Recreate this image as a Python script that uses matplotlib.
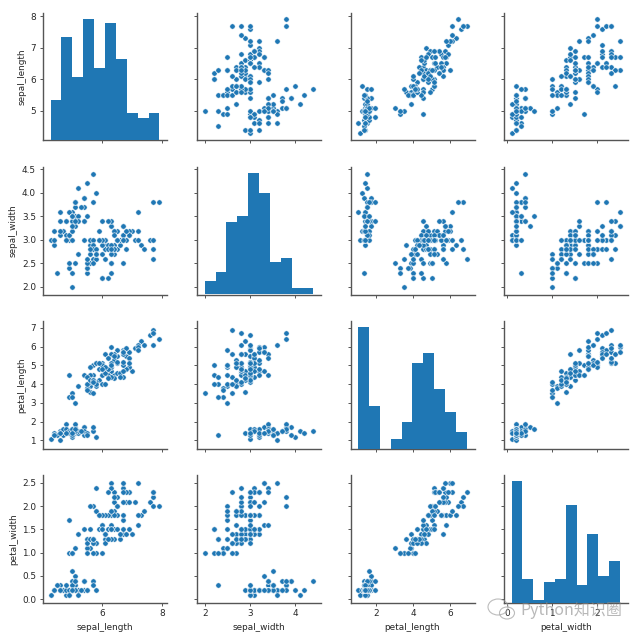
#!/usr/bin/env python3
import numpy as np
import matplotlib as mpl
mpl.use('Agg')
import matplotlib.pyplot as plt
from matplotlib.patches import Ellipse

# iris measurements, same row order in the 4 lists
sepal_length = [5.1,4.9,4.7,4.6,5.0,5.4,4.6,5.0,4.4,4.9,5.4,4.8,4.8,4.3,5.8,5.7,5.4,5.1,5.7,5.1,
                5.4,5.1,4.6,5.1,4.8,5.0,5.0,5.2,5.2,4.7,4.8,5.4,5.2,5.5,4.9,5.0,5.5,4.9,4.4,5.1,
                5.0,4.5,4.4,5.0,5.1,4.8,5.1,4.6,5.3,5.0,
                7.0,6.4,6.9,5.5,6.5,5.7,6.3,4.9,6.6,5.2,5.0,5.9,6.0,6.1,5.6,6.7,5.6,5.8,6.2,5.6,
                5.9,6.1,6.3,6.1,6.4,6.6,6.8,6.7,6.0,5.7,5.5,5.5,5.8,6.0,5.4,6.0,6.7,6.3,5.6,5.5,
                5.5,6.1,5.8,5.0,5.6,5.7,5.7,6.2,5.1,5.7,
                6.3,5.8,7.1,6.3,6.5,7.6,4.9,7.3,6.7,7.2,6.5,6.4,6.8,5.7,5.8,6.4,6.5,7.7,7.7,6.0,
                6.9,5.6,7.7,6.3,6.7,7.2,6.2,6.1,6.4,7.2,7.4,7.9,6.4,6.3,6.1,7.7,6.3,6.4,6.0,6.9,
                6.7,6.9,5.8,6.8,6.7,6.7,6.3,6.5,6.2,5.9]
sepal_width = [3.5,3.0,3.2,3.1,3.6,3.9,3.4,3.4,2.9,3.1,3.7,3.4,3.0,3.0,4.0,4.4,3.9,3.5,3.8,3.8,
               3.4,3.7,3.6,3.3,3.4,3.0,3.4,3.5,3.4,3.2,3.1,3.4,4.1,4.2,3.1,3.2,3.5,3.6,3.0,3.4,
               3.5,2.3,3.2,3.5,3.8,3.0,3.8,3.2,3.7,3.3,
               3.2,3.2,3.1,2.3,2.8,2.8,3.3,2.4,2.9,2.7,2.0,3.0,2.2,2.9,2.9,3.1,3.0,2.7,2.2,2.5,
               3.2,2.8,2.5,2.8,2.9,3.0,2.8,3.0,2.9,2.6,2.4,2.4,2.7,2.7,3.0,3.4,3.1,2.3,3.0,2.5,
               2.6,3.0,2.6,2.3,2.7,3.0,2.9,2.9,2.5,2.8,
               3.3,2.7,3.0,2.9,3.0,3.0,2.5,2.9,2.5,3.6,3.2,2.7,3.0,2.5,2.8,3.2,3.0,3.8,2.6,2.2,
               3.2,2.8,2.8,2.7,3.3,3.2,2.8,3.0,2.8,3.0,2.8,3.8,2.8,2.8,2.6,3.0,3.4,3.1,3.0,3.1,
               3.1,3.1,2.7,3.2,3.3,3.0,2.5,3.0,3.4,3.0]
petal_length = [1.4,1.4,1.3,1.5,1.4,1.7,1.4,1.5,1.4,1.5,1.5,1.6,1.4,1.1,1.2,1.5,1.3,1.4,1.7,1.5,
                1.7,1.5,1.0,1.7,1.9,1.6,1.6,1.5,1.4,1.6,1.6,1.5,1.5,1.4,1.5,1.2,1.3,1.4,1.3,1.5,
                1.3,1.3,1.3,1.6,1.9,1.4,1.6,1.4,1.5,1.4,
                4.7,4.5,4.9,4.0,4.6,4.5,4.7,3.3,4.6,3.9,3.5,4.2,4.0,4.7,3.6,4.4,4.5,4.1,4.5,3.9,
                4.8,4.0,4.9,4.7,4.3,4.4,4.8,5.0,4.5,3.5,3.8,3.7,3.9,5.1,4.5,4.5,4.7,4.4,4.1,4.0,
                4.4,4.6,4.0,3.3,4.2,4.2,4.2,4.3,3.0,4.1,
                6.0,5.1,5.9,5.6,5.8,6.6,4.5,6.3,5.8,6.1,5.1,5.3,5.5,5.0,5.1,5.3,5.5,6.7,6.9,5.0,
                5.7,4.9,6.7,4.9,5.7,6.0,4.8,4.9,5.6,5.8,6.1,6.4,5.6,5.1,5.6,6.1,5.6,5.5,4.8,5.4,
                5.6,5.1,5.1,5.9,5.7,5.2,5.0,5.2,5.4,5.1]
petal_width = [0.2,0.2,0.2,0.2,0.2,0.4,0.3,0.2,0.2,0.1,0.2,0.2,0.1,0.1,0.2,0.4,0.4,0.3,0.3,0.3,
               0.2,0.4,0.2,0.5,0.2,0.2,0.4,0.2,0.2,0.2,0.2,0.4,0.1,0.2,0.2,0.2,0.2,0.1,0.2,0.2,
               0.3,0.3,0.2,0.6,0.4,0.3,0.2,0.2,0.2,0.2,
               1.4,1.5,1.5,1.3,1.5,1.3,1.6,1.0,1.3,1.4,1.0,1.5,1.0,1.4,1.3,1.4,1.5,1.0,1.5,1.1,
               1.8,1.3,1.5,1.2,1.3,1.4,1.4,1.7,1.5,1.0,1.1,1.0,1.2,1.6,1.5,1.6,1.5,1.3,1.3,1.3,
               1.2,1.4,1.2,1.0,1.3,1.2,1.3,1.3,1.1,1.3,
               2.5,1.9,2.1,1.8,2.2,2.1,1.7,1.8,1.8,2.5,2.0,1.9,2.1,2.0,2.4,2.3,1.8,2.2,2.3,1.5,
               2.3,2.0,2.0,1.8,2.1,1.8,1.8,1.8,2.1,1.6,1.9,2.0,2.2,1.5,1.4,2.3,2.4,1.8,1.8,2.1,
               2.4,2.3,1.9,2.3,2.5,2.3,1.9,2.0,2.3,1.8]

names = ['sepal_length', 'sepal_width', 'petal_length', 'petal_width']
columns = [sepal_length, sepal_width, petal_length, petal_width]

x_ticks = [[6, 8], [2, 3, 4], [2, 4, 6], [0, 1, 2]]
y_ticks = [[5, 6, 7, 8], [2.0, 2.5, 3.0, 3.5, 4.0, 4.5], [1, 2, 3, 4, 5, 6, 7],
           [0.0, 0.5, 1.0, 1.5, 2.0, 2.5]]
y_labels = [['5', '6', '7', '8'], ['2.0', '2.5', '3.0', '3.5', '4.0', '4.5'],
            ['1', '2', '3', '4', '5', '6', '7'], ['0.0', '0.5', '1.0', '1.5', '2.0', '2.5']]
x_lims = [(4.05, 8.15), (1.83, 4.57), (0.59, 7.32), (-0.07, 2.68)]
y_lims = [(4.07, 8.12), (1.84, 4.55), (0.57, 7.36), (-0.07, 2.67)]

# pixel layout of the grid (640x640 image)
col_left = [43, 197, 350.5, 504]
row_top = [12.5, 167, 321, 475]
ax_w = 124.
ax_h = 127.5
npx = 640.

clr = '#1f77b4'
clr_ax = '#555555'
fs = 6.4

mpl.rcParams.update({'font.family': ['DejaVu Sans'], 'font.size': fs,
                     'xtick.labelsize': fs, 'ytick.labelsize': fs, 'axes.labelsize': fs})

fig = plt.figure(figsize=(6.4, 6.4), dpi=100, facecolor='w')

for jr in range(4):
    for jc in range(4):
        ax = fig.add_axes([col_left[jc]/npx, 1. - (row_top[jr] + ax_h)/npx, ax_w/npx, ax_h/npx])
        ax.set_xlim(x_lims[jc])
        ax.set_ylim(y_lims[jr])
        ax.set_xticks(x_ticks[jc])
        ax.set_yticks(y_ticks[jr])
        ax.set_yticklabels(y_labels[jr])
        ax.spines['top'].set_visible(False)
        ax.spines['right'].set_visible(False)
        ax.spines['left'].set_color(clr_ax)
        ax.spines['bottom'].set_color(clr_ax)
        ax.spines['left'].set_linewidth(1.)
        ax.spines['bottom'].set_linewidth(1.)
        ax.tick_params(length=2.5, width=0.7, pad=2.5, color=clr_ax, labelcolor='#262626')

        if jr == jc:
            # histogram on its own y scale
            ax2 = ax.twinx()
            ax2.hist(columns[jc], bins=10, color=clr)
            ax2.set_xlim(x_lims[jc])
            ax2.axis('off')
        else:
            ax.scatter(columns[jc], columns[jr], s=15, c=clr, edgecolors='w', linewidths=0.4)

        if jc == 0:
            ax.set_ylabel(names[jr], labelpad=3, color='#262626')
        else:
            ax.tick_params(labelleft=False)
        if jr == 3:
            ax.set_xlabel(names[jc], labelpad=3, color='#262626')
        else:
            ax.tick_params(labelbottom=False)

# watermark, bottom right
fig.text(520./npx, 1. - 610./npx, 'Python知识圈', fontsize=11.5, color='#8a8a8a', alpha=0.6,
         family=['Noto Sans CJK SC', 'DejaVu Sans'], va='center', ha='left', zorder=10)
fig.add_artist(Ellipse((498./npx, 1. - 607./npx), 20./npx, 16./npx, transform=fig.transFigure,
                       fc='none', ec='#a0a0a0', lw=0.8, alpha=0.7))
fig.add_artist(Ellipse((507./npx, 1. - 613./npx), 15./npx, 12./npx, transform=fig.transFigure,
                       fc='none', ec='#a0a0a0', lw=0.8, alpha=0.7))

plt.savefig('out.png', dpi=100, facecolor='w')
